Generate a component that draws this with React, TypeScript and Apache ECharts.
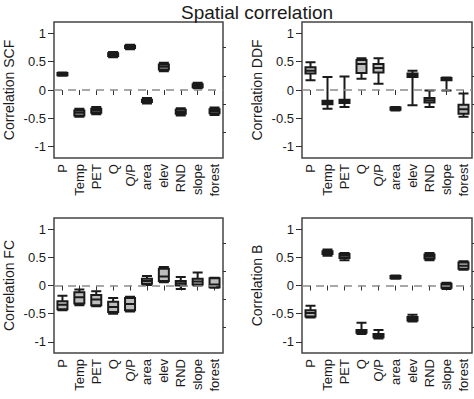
import React, { useEffect, useRef } from "react";
import * as echarts from "echarts";

const categories = ["P", "Temp", "PET", "Q", "Q/P", "area", "elev", "RND", "slope", "forest"];
const panelNames = ["Correlation SCF", "Correlation DDF", "Correlation FC", "Correlation B"];
const majorTicks = [-1, -0.5, 0, 0.5, 1];
const minorTicks = [-0.75, -0.25, 0.25, 0.75];

// [min, Q1, median, Q3, max]
const scf = [
  [0.25, 0.26, 0.28, 0.3, 0.31],
  [-0.47, -0.45, -0.4, -0.36, -0.33],
  [-0.43, -0.4, -0.36, -0.33, -0.3],
  [0.58, 0.6, 0.63, 0.65, 0.67],
  [0.72, 0.74, 0.76, 0.78, 0.8],
  [-0.24, -0.21, -0.19, -0.17, -0.14],
  [0.33, 0.36, 0.41, 0.45, 0.48],
  [-0.45, -0.42, -0.39, -0.35, -0.32],
  [0.03, 0.05, 0.07, 0.1, 0.13],
  [-0.44, -0.41, -0.37, -0.34, -0.31],
];
const ddf = [
  [0.17, 0.29, 0.34, 0.4, 0.49],
  [-0.33, -0.25, -0.22, -0.19, 0.23],
  [-0.3, -0.23, -0.2, -0.17, 0.24],
  [0.2, 0.3, 0.46, 0.53, 0.56],
  [0.11, 0.31, 0.39, 0.46, 0.56],
  [-0.36, -0.35, -0.33, -0.31, -0.3],
  [-0.27, 0.23, 0.26, 0.29, 0.34],
  [-0.3, -0.22, -0.18, -0.14, -0.01],
  [-0.01, 0.17, 0.19, 0.21, 0.22],
  [-0.47, -0.42, -0.34, -0.26, -0.06],
];
const fc = [
  [-0.44, -0.42, -0.34, -0.28, -0.18],
  [-0.35, -0.32, -0.21, -0.12, -0.07],
  [-0.37, -0.35, -0.25, -0.17, -0.1],
  [-0.5, -0.47, -0.38, -0.29, -0.22],
  [-0.46, -0.44, -0.33, -0.22, -0.2],
  [0.01, 0.03, 0.08, 0.12, 0.17],
  [0.06, 0.08, 0.16, 0.3, 0.33],
  [-0.06, 0.0, 0.04, 0.08, 0.15],
  [0.0, 0.02, 0.07, 0.12, 0.23],
  [-0.04, -0.03, 0.02, 0.13, 0.14],
];
const bCorr = [
  [-0.57, -0.55, -0.49, -0.44, -0.36],
  [0.53, 0.56, 0.58, 0.61, 0.64],
  [0.45, 0.49, 0.53, 0.56, 0.58],
  [-0.86, -0.84, -0.81, -0.79, -0.66],
  [-0.94, -0.92, -0.89, -0.86, -0.79],
  [0.12, 0.13, 0.15, 0.17, 0.18],
  [-0.64, -0.62, -0.59, -0.56, -0.52],
  [0.45, 0.48, 0.52, 0.55, 0.58],
  [-0.06, -0.04, 0.0, 0.03, 0.05],
  [0.28, 0.3, 0.35, 0.41, 0.43],
];
const allData = [scf, ddf, fc, bCorr];

const grids = [
  { left: 54, top: 22, width: 169, height: 136 },
  { left: 302, top: 22, width: 170, height: 136 },
  { left: 54, top: 218, width: 169, height: 135 },
  { left: 302, top: 218, width: 170, height: 135 },
];

const FONT = "'Liberation Sans', Arial, sans-serif";

export default function App() {
  const ref = useRef<HTMLDivElement>(null);
  useEffect(() => {
    if (!ref.current) return;
    const chart = echarts.init(ref.current, null, { renderer: "svg" });
    const xAxis: any[] = [];
    const yAxis: any[] = [];
    const series: any[] = [];
    grids.forEach((g, i) => {
      xAxis.push({
        type: "category",
        gridIndex: i,
        data: categories,
        axisLine: { show: false },
        axisTick: { show: true, alignWithLabel: true, interval: 0, length: 5, lineStyle: { color: "#333", width: 1 } },
        axisLabel: { rotate: 90, interval: 0, hideOverlap: false, fontSize: 13, color: "#1a1a1a", fontFamily: FONT, margin: 6 },
        splitLine: { show: false },
      });
      yAxis.push({
        type: "value",
        gridIndex: i,
        min: -1.2,
        max: 1.2,
        name: panelNames[i],
        nameLocation: "middle",
        nameGap: 38,
        nameTextStyle: { fontSize: 14, color: "#1a1a1a", fontFamily: FONT },
        axisLine: { show: false },
        axisTick: { show: true, length: 6, customValues: majorTicks, lineStyle: { color: "#333" } },
        axisLabel: { customValues: majorTicks, fontSize: 13, color: "#1a1a1a", fontFamily: FONT, margin: 8 },
        splitLine: { show: false },
      });
      yAxis.push({
        type: "value",
        gridIndex: i,
        min: -1.2,
        max: 1.2,
        axisLine: { show: false },
        axisTick: { show: true, length: 3, customValues: minorTicks, lineStyle: { color: "#333" } },
        axisLabel: { show: false },
        splitLine: { show: false },
      });
      series.push({
        type: "boxplot",
        xAxisIndex: i,
        yAxisIndex: i * 2,
        data: allData[i],
        boxWidth: [10, 10],
        itemStyle: { color: "#bdbdbd", borderColor: "#1a1a1a", borderWidth: 2 },
        markLine: {
          silent: true,
          symbol: "none",
          label: { show: false },
          lineStyle: { type: [8, 6], color: "#8c8c8c", width: 1.5 },
          data: [{ yAxis: 0 }],
        },
      });
    });
    chart.setOption({
      animation: false,
      backgroundColor: "#fff",
      title: {
        text: "Spatial correlation",
        left: 252,
        textAlign: "center",
        top: -2,
        textStyle: { fontSize: 19, fontWeight: "normal", color: "#1a1a1a", fontFamily: FONT },
      },
      grid: grids.map((g) => ({ ...g, show: true, borderColor: "#444", borderWidth: 1.5, backgroundColor: "transparent" })),
      xAxis,
      yAxis,
      series,
    });
    return () => chart.dispose();
  }, []);
  return <div ref={ref} style={{ position: "fixed", left: 0, top: 0, width: 474, height: 399 }} />;
}
